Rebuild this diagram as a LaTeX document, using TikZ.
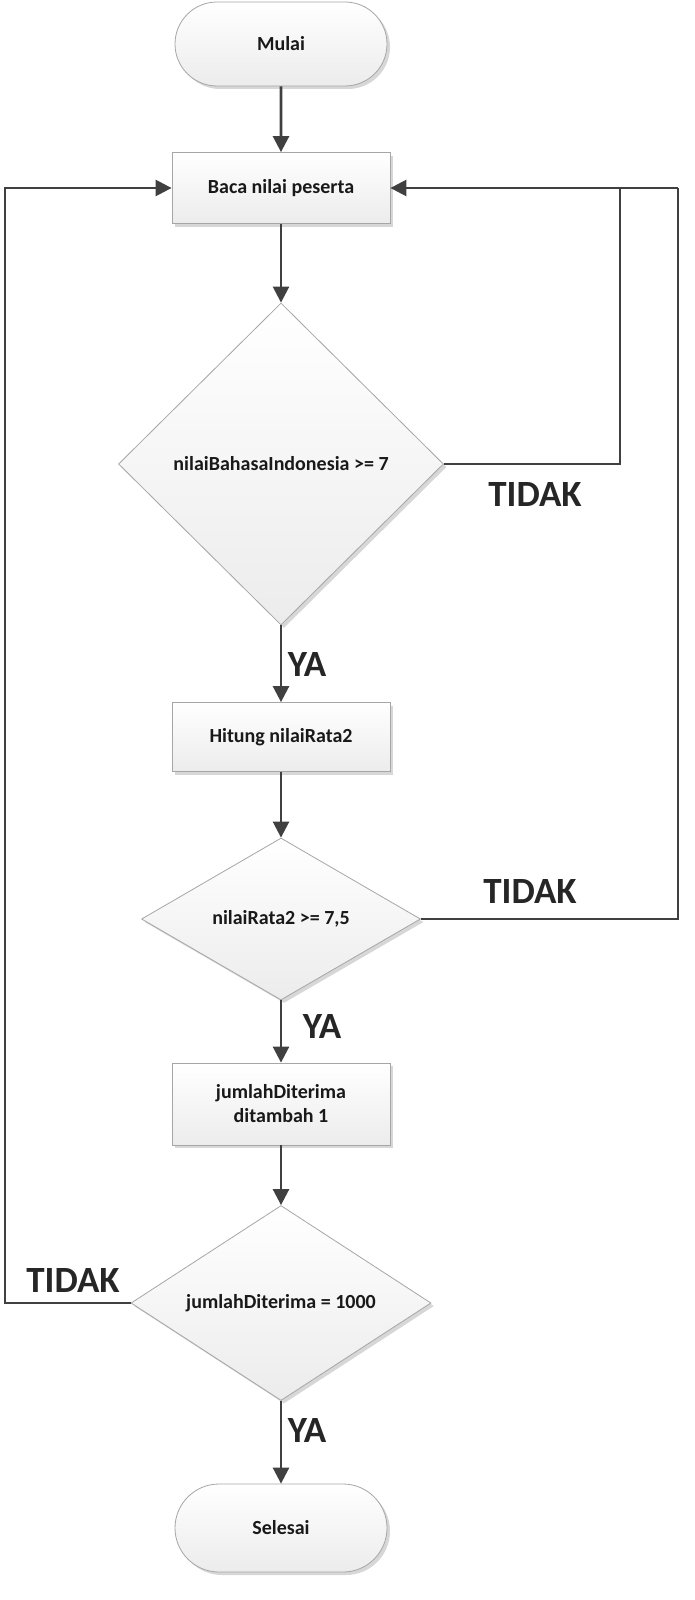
\documentclass[tikz,border=0pt]{standalone}
\usepackage{fontspec}
\setmainfont{Carlito}
\usetikzlibrary{shapes.geometric,shapes.misc,arrows.meta,shadows}
\begin{document}
\begin{tikzpicture}[x=1pt,y=-1pt,
  base/.style={draw=gray!70,line width=0.8pt,top color=white,bottom color=gray!15,
    drop shadow={shadow xshift=3pt,shadow yshift=-3pt,fill=gray!45,opacity=0.7},
    align=center,inner sep=0pt},
  txt/.style={font=\bfseries\fontsize{20}{24}\selectfont,align=center,text=black!90},
  term/.style={base,txt,rounded rectangle,minimum width=212pt,minimum height=84pt},
  proc/.style={base,txt,rectangle,minimum width=218pt},
  conn/.style={draw=black!75,line width=2.6pt,-{Triangle[length=16pt,width=16pt]}},
  line/.style={draw=black!75,line width=2.6pt},
  lab/.style={font=\bfseries\fontsize{37}{42}\selectfont,text=black!85}]
\useasboundingbox (0,0) rectangle (694,1600);
\node[term] (start) at (281,44) {Mulai};
\node[proc,minimum height=71pt] (read) at (281,188) {Baca nilai peserta};
\node[base,diamond,minimum width=325pt,minimum height=322pt] (d1) at (281,464) {};
\node[txt] at (281,464) {nilaiBahasaIndonesia >= 7};
\node[proc,minimum height=69pt] (calc) at (281,737) {Hitung nilaiRata2};
\node[base,diamond,minimum width=279pt,minimum height=162pt] (d2) at (281,919) {};
\node[txt] at (281,919) {nilaiRata2 >= 7,5};
\node[proc,minimum height=82pt] (inc) at (281,1104) {jumlahDiterima\\ditambah 1};
\node[base,diamond,minimum width=300pt,minimum height=195pt] (d3) at (281,1303) {};
\node[txt] at (281,1303) {jumlahDiterima = 1000};
\node[term,minimum height=88pt] (stop) at (281,1528) {Selesai};
\coordinate (c1) at (620,464); \coordinate (c1t) at (620,188);
\coordinate (c2) at (678,919); \coordinate (c2t) at (678,188);
\coordinate (c3) at (5,1303); \coordinate (c3t) at (5,188);
\draw[conn] (start) -- (read);
\draw[conn] (read) -- (d1);
\draw[conn] (d1) -- (calc);
\draw[conn] (calc) -- (d2);
\draw[conn] (d2) -- (inc);
\draw[conn] (inc) -- (d3);
\draw[conn] (d3) -- (stop);
\draw[line] (d1.east) -- (c1) -- (c1t);
\draw[line] (d2.east) -- (c2) -- (c2t);
\draw[conn] (c2t) -- (read.east);
\draw[conn] (d3.west) -- (c3) -- (c3t) -- (read.west);
\node[lab] at (535,494) {TIDAK};
\node[lab] at (530,891) {TIDAK};
\node[lab] at (73,1280) {TIDAK};
\node[lab] at (307,664) {YA};
\node[lab] at (322,1026) {YA};
\node[lab] at (307,1430) {YA};
\end{tikzpicture}
\end{document}
